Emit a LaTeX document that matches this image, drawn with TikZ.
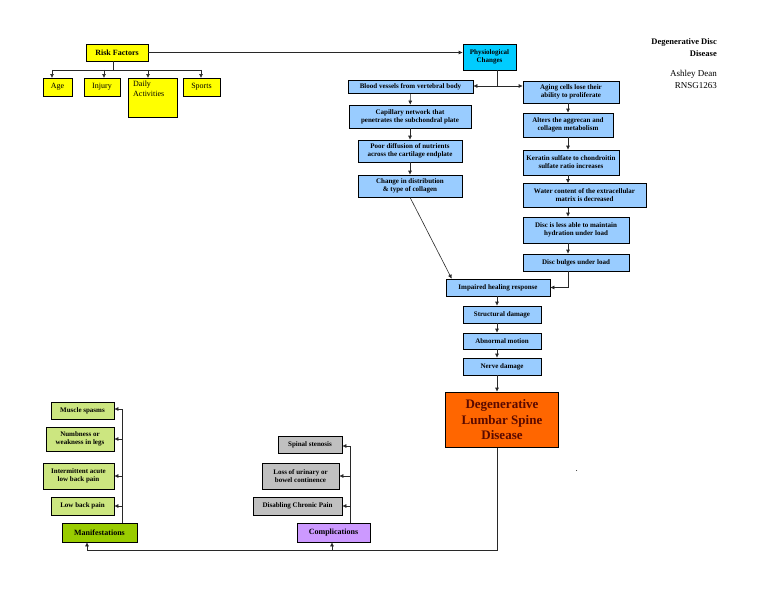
\documentclass[tikz,border=0pt]{standalone}
\usepackage{fontspec}
\setmainfont{Liberation Serif}
\usetikzlibrary{arrows.meta}
\definecolor{lb}{RGB}{153,204,255}
\definecolor{yel}{RGB}{255,255,0}
\definecolor{cy}{RGB}{0,204,255}
\definecolor{lg}{RGB}{204,230,128}
\definecolor{mg}{RGB}{153,204,0}
\definecolor{gr}{RGB}{192,192,192}
\definecolor{pu}{RGB}{204,153,255}
\definecolor{org}{RGB}{255,102,0}
\definecolor{dred}{RGB}{90,10,0}
\definecolor{ln}{RGB}{40,40,40}
\begin{document}
\begin{tikzpicture}[x=1pt,y=-1pt,
  bx/.style={draw=black,line width=0.6pt,inner sep=1pt,align=center,font=\fontsize{7}{8}\selectfont\bfseries},
  blue/.style={bx,fill=lb},
  ybx/.style={bx,fill=yel,font=\fontsize{8}{9.5}\selectfont},
  gbx/.style={bx,fill=lg},
  gybx/.style={bx,fill=gr},
  arr/.style={draw=ln,line width=0.6pt,-{Latex[length=4pt,width=4pt]}},
  lin/.style={draw=ln,line width=0.6pt}]
\useasboundingbox (0,0) rectangle (768,594);
% Risk factors
\node[bx,fill=yel,font=\fontsize{8}{9.5}\selectfont\bfseries,minimum width=62pt,minimum height=17pt] (rf) at (117,52.5) {Risk Factors};
\node[ybx,minimum width=29pt,minimum height=18pt] (age) at (57.5,87) {Age};
\node[ybx,minimum width=36pt,minimum height=18pt] (inj) at (102,87) {Injury};
\node[bx,fill=yel,minimum width=49pt,minimum height=39pt] (da) at (152.5,97.5) {};
\node[font=\fontsize{8}{9.5}\selectfont,align=left,anchor=north west,inner sep=0pt] (dat) at (133,81) {Daily\\Activities};
\node[ybx,minimum width=37pt,minimum height=18pt] (sp) at (201.5,87) {Sports};
\coordinate (bus) at (113,70);
\draw[lin] (bus |- rf.south) -- (bus);
\draw[lin] (52,70) -- (201,70);
\draw[arr] (52,70) -- (52,78);
\draw[arr] (104,70) -- (104,78);
\draw[arr] (148,70) -- (148,78);
\draw[arr] (201,70) -- (201,78);
% Physiological
\node[bx,fill=cy,minimum width=53pt,minimum height=26pt] (pc) at (489.5,57) {Physiological\\Changes};
\draw[arr] (rf.east) -- (rf.east -| pc.west);
% left column
\node[blue,minimum width=125pt,minimum height=13pt] (bv) at (410.5,87) {Blood vessels from vertebral body};
\node[blue,minimum width=122pt,minimum height=23pt] (cap) at (410,116.5) {Capillary network that\\penetrates the subchondral plate};
\node[blue,minimum width=104pt,minimum height=22pt] (pd) at (410,151) {Poor diffusion of nutrients\\across the cartilage endplate};
\node[blue,minimum width=104pt,minimum height=22pt] (ch) at (410,186) {Change in distribution\\\& type of collagen};
% right column
\node[blue,minimum width=96pt,minimum height=22pt] (ag) at (571,92) {Aging cells lose their\\ability to proliferate};
\node[blue,minimum width=90pt,minimum height=24pt] (al) at (568,125) {Alters the aggrecan and\\collagen metabolism};
\node[blue,minimum width=96pt,minimum height=25pt] (ke) at (571,162.5) {Keratin sulfate to chondroitin\\sulfate ratio increases};
\node[blue,minimum width=123pt,minimum height=24pt] (wa) at (584.5,195.5) {Water content of the extracellular\\matrix is decreased};
\node[blue,minimum width=106pt,minimum height=26pt] (dla) at (576,230) {Disc is less able to maintain\\hydration under load};
\node[blue,minimum width=106pt,minimum height=17pt] (db) at (576,262.5) {Disc bulges under load};
% center
\node[blue,minimum width=104pt,minimum height=17pt] (ih) at (498,287.5) {Impaired healing response};
\node[blue,minimum width=78pt,minimum height=17pt] (sd) at (502,314.5) {Structural damage};
\node[blue,minimum width=78pt,minimum height=16pt] (am) at (502,341) {Abnormal motion};
\node[blue,minimum width=78pt,minimum height=17pt] (nd) at (502,366.5) {Nerve damage};
\node[draw=black,line width=1.6pt,fill=org,minimum width=113pt,minimum height=55pt,align=center,text=dred,font=\fontsize{13}{15.5}\selectfont\bfseries,inner sep=1pt] (dg) at (502,420) {Degenerative\\Lumbar Spine\\Disease};
% connectors physio
\coordinate (pj) at (497,86);
\draw[lin] (pj |- pc.south) -- (pj);
\draw[arr] (pj) -- (pj -| bv.east);
\draw[arr] (pj) -- (pj -| ag.west);
\draw[arr] (bv) -- (cap);
\draw[arr] (cap) -- (pd);
\draw[arr] (pd) -- (ch);
\draw[arr] (ch.south) -- ([xshift=6pt]ih.north west);
\coordinate (rc) at (568,0);
\draw[arr] (rc |- ag.south) -- (rc |- al.north);
\draw[arr] (rc |- al.south) -- (rc |- ke.north);
\draw[arr] (rc |- ke.south) -- (rc |- wa.north);
\draw[arr] (rc |- wa.south) -- (rc |- dla.north);
\draw[arr] (rc |- dla.south) -- (rc |- db.north);
\draw[arr] (rc |- db.south) |- (ih.east);
\coordinate (cc) at (497,0);
\draw[arr] (cc |- ih.south) -- (cc |- sd.north);
\draw[arr] (cc |- sd.south) -- (cc |- am.north);
\draw[arr] (cc |- am.south) -- (cc |- nd.north);
\draw[arr] (cc |- nd.south) -- (cc |- dg.north);
% manifestations
\node[gbx,minimum width=63pt,minimum height=17pt] (ms) at (82.5,410.5) {Muscle spasms};
\node[gbx,minimum width=68pt,minimum height=24pt] (nw) at (80,439) {Numbness or\\weakness in legs};
\node[gbx,minimum width=71pt,minimum height=26pt] (ia) at (78.5,476) {Intermittent acute\\low back pain};
\node[gbx,minimum width=63pt,minimum height=18pt] (lbp) at (82.5,506) {Low back pain};
\node[bx,fill=mg,font=\fontsize{8}{9.5}\selectfont\bfseries,minimum width=75pt,minimum height=19pt] (man) at (99.5,532.5) {Manifestations};
\coordinate (mv) at (122,409);
\draw[lin] (mv |- man.north) -- (mv);
\draw[arr] (mv) -- (mv -| ms.east);
\draw[arr] (mv |- nw.east) -- (nw.east);
\draw[arr] (mv |- ia.east) -- (ia.east);
\draw[arr] (mv |- lbp.east) -- (lbp.east);
% complications
\node[gybx,minimum width=64pt,minimum height=17pt] (ss) at (310,444.5) {Spinal stenosis};
\node[gybx,minimum width=77pt,minimum height=26pt] (lu) at (300.5,476) {Loss of urinary or\\bowel continence};
\node[gybx,minimum width=89pt,minimum height=18pt] (dc) at (297.5,506) {Disabling Chronic Pain};
\node[bx,fill=pu,font=\fontsize{8}{9.5}\selectfont\bfseries,minimum width=73pt,minimum height=19pt] (comp) at (333.5,532.5) {Complications};
\coordinate (cv) at (350,446);
\draw[lin] (cv |- comp.north) -- (cv);
\draw[arr] (cv) -- (cv -| ss.east);
\draw[arr] (cv |- lu.east) -- (lu.east);
\draw[arr] (cv |- dc.east) -- (dc.east);
% bottom connector
\coordinate (bl) at (87,550);
\coordinate (bc) at (332,550);
\draw[arr] (dg.south -| cc) |- (bl) -- (bl |- man.south);
\draw[arr] (bc) -- (bc |- comp.south);
% title
\node[anchor=north east,align=right,inner sep=0pt,font=\fontsize{8.5}{12}\selectfont\bfseries] (tt) at (717,38) {Degenerative Disc\\Disease};
\node[anchor=north east,align=right,inner sep=0pt,font=\fontsize{9}{12}\selectfont] (au) at (717,70) {Ashley Dean\\RNSG1263};
\fill[ln] (576.5,470.5) circle (0.5pt);
\end{tikzpicture}
\end{document}
